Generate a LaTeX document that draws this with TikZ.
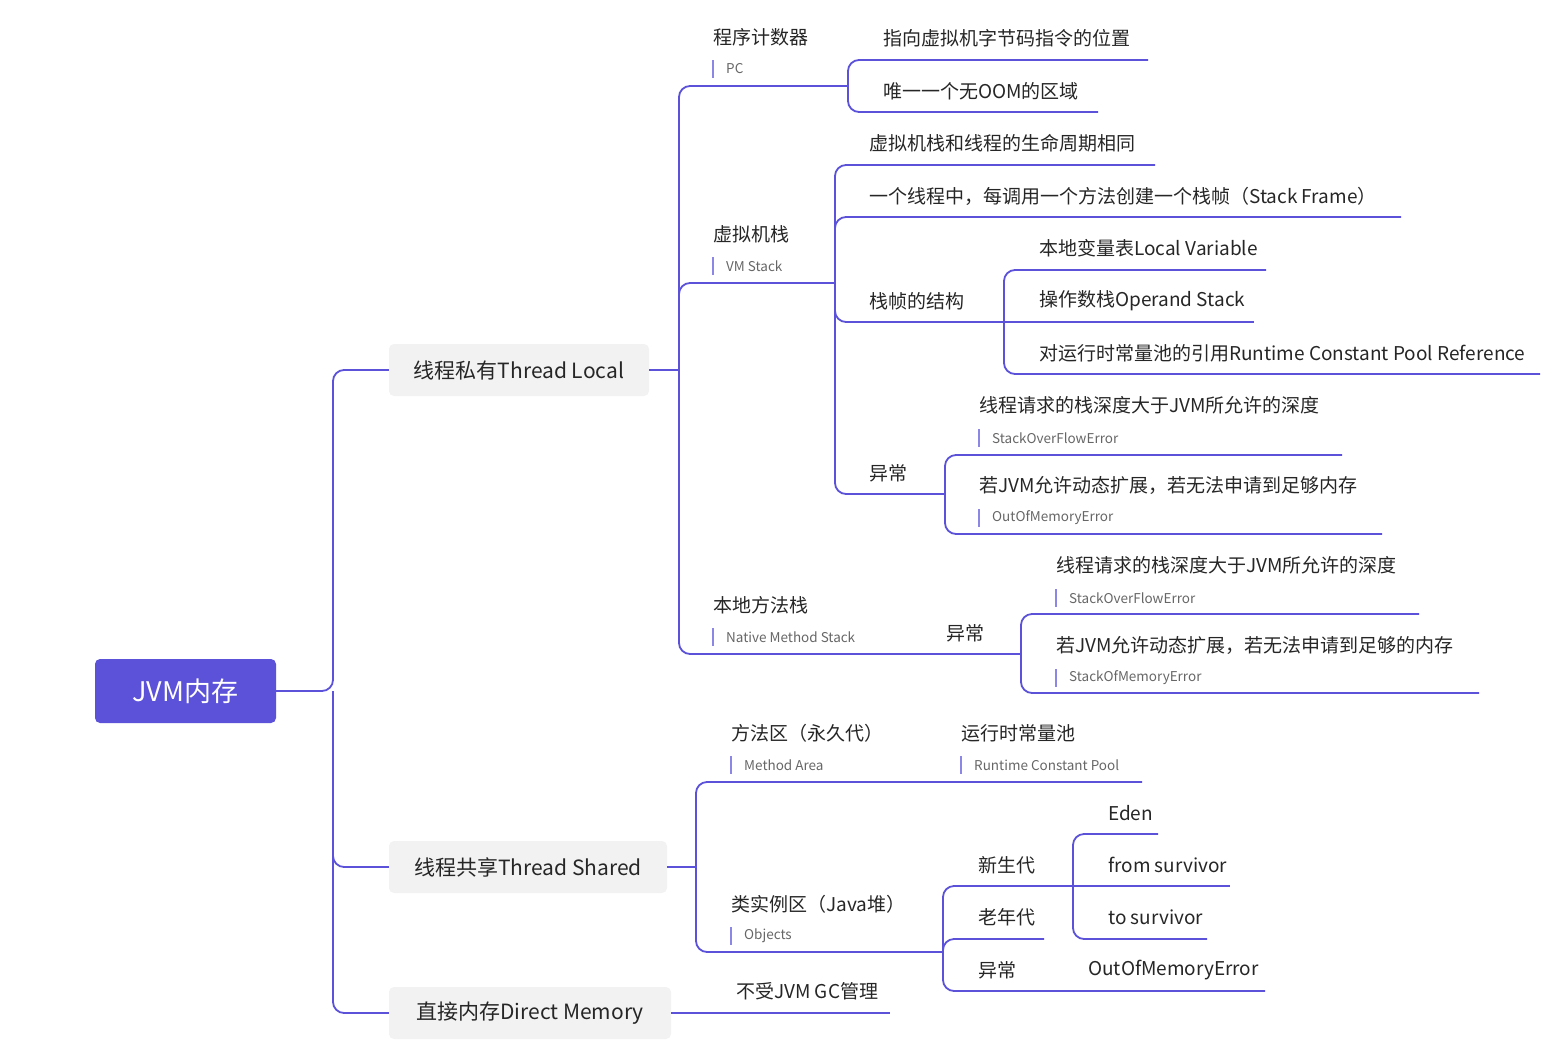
\documentclass[tikz,border=0pt]{standalone}
\usepackage{fontspec}
\setmainfont{Noto Sans CJK SC}
\definecolor{pur}{HTML}{5B52D9}
\definecolor{subg}{HTML}{666666}
\definecolor{boxg}{HTML}{F2F2F2}
\tikzset{
  conn/.style={draw=pur,line width=1.8pt,rounded corners=11pt},
  txt/.style={anchor=west,inner sep=0pt,font=\fontsize{19}{22}\selectfont,text=black!85},
  sub/.style={anchor=west,inner sep=0pt,font=\fontsize{13.5}{16}\selectfont,text=subg},
  bar/.style={draw=pur!70,line width=1.5pt},
  l1/.style={fill=boxg,rounded corners=5pt,inner sep=0pt,font=\fontsize{21}{24}\selectfont,text=black!85}
}
\newcommand\subl[4]{\draw[bar] (#1,#2-9) -- (#1,#2+9); \node[sub] (#4) at (#1+13,#2) {#3};}
\begin{document}
\begin{tikzpicture}[x=1pt,y=-1pt]
\useasboundingbox (0,0) rectangle (1564,1045);
% root
\node[fill=pur,rounded corners=5pt,minimum width=181pt,minimum height=64pt,text=white,font=\fontsize{27}{30}\selectfont] (root) at (185.5,691) {JVM内存};
\node[l1,minimum width=260pt,minimum height=52pt] (tl) at (519,370) {线程私有Thread Local};
\node[l1,minimum width=278pt,minimum height=52pt] (ts) at (528,867) {线程共享Thread Shared};
\node[l1,minimum width=282pt,minimum height=52pt] (dm) at (530,1013) {直接内存Direct Memory};
\draw[conn] (root.east) -- (333,691) |- (tl.west);
\draw[conn] (333,691) |- (ts.west);
\draw[conn] (333,691) |- (dm.west);

% Thread Local
\coordinate (a) at (679,370);
\draw[conn] (tl.east) -- (a);
\node[txt] (pc) at (713,37) {程序计数器}; \subl{713}{69}{PC}{pcs}
\node[txt] (vs) at (713,234) {虚拟机栈}; \subl{713}{266}{VM Stack}{vss}
\node[txt] (nm) at (713,605) {本地方法栈}; \subl{713}{637}{Native Method Stack}{nms}
\draw[conn] (a) |- (848,86);
\draw[conn] (a) |- (835,283);
\draw[conn] (a) |- (1021,654);
% PC children
\node[txt] (p1) at (883,38) {指向虚拟机字节码指令的位置};
\node[txt] (p2) at (883,91) {唯一一个无OOM的区域};
\draw[conn] (848,86) |- (1148,60);
\draw[conn] (848,86) |- (1098,112);
% VM stack children
\node[txt] (v1) at (869,143) {虚拟机栈和线程的生命周期相同};
\node[txt] (v2) at (869,196) {一个线程中，每调用一个方法创建一个栈帧（Stack Frame）};
\node[txt] (v3) at (869,301) {栈帧的结构};
\node[txt] (v4) at (869,473) {异常};
\draw[conn] (835,283) |- (1155,165);
\draw[conn] (835,283) |- (1401,217);
\draw[conn] (835,283) |- (1004,322);
\draw[conn] (835,283) |- (945,494);
\node[txt] (f1) at (1039,248) {本地变量表Local Variable};
\node[txt] (f2) at (1039,301) {操作数栈Operand Stack};
\node[txt] (f3) at (1039,353) {对运行时常量池的引用Runtime Constant Pool Reference};
\draw[conn] (1004,322) |- (1266,270);
\draw[conn] (1004,322) -- (1254,322);
\draw[conn] (1004,322) |- (1540,374);
\node[txt] (e1) at (979,405) {线程请求的栈深度大于JVM所允许的深度}; \subl{979}{438}{StackOverFlowError}{e1s}
\node[txt] (e2) at (979,485) {若JVM允许动态扩展，若无法申请到足够内存}; \subl{979}{518}{OutOfMemoryError}{e2s}
\draw[conn] (945,494) |- (1342,455);
\draw[conn] (945,494) |- (1382,534);
% native method stack
\node[txt] (ne) at (946,633) {异常};
\node[txt] (n1) at (1056,565) {线程请求的栈深度大于JVM所允许的深度}; \subl{1056}{598}{StackOverFlowError}{n1s}
\node[txt] (n2) at (1056,645) {若JVM允许动态扩展，若无法申请到足够的内存}; \subl{1056}{678}{StackOfMemoryError}{n2s}
\draw[conn] (1021,654) |- (1419,614);
\draw[conn] (1021,654) |- (1479,693);

% Thread Shared
\coordinate (b) at (696,867);
\draw[conn] (ts.east) -- (b);
\node[txt] (ma) at (731,733) {方法区（永久代）}; \subl{731}{765}{Method Area}{mas}
\node[txt] (rc) at (961,733) {运行时常量池}; \subl{961}{765}{Runtime Constant Pool}{rcs}
\node[txt] (ob) at (731,904) {类实例区（Java堆）}; \subl{731}{936}{Objects}{obs}
\draw[conn] (b) |- (1142,782);
\draw[conn] (b) |- (943,952);
\node[txt] (y1) at (978,865) {新生代};
\node[txt] (y2) at (978,917) {老年代};
\node[txt] (y3) at (978,970) {异常};
\node[txt] (y4) at (1088,970) {OutOfMemoryError};
\draw[conn] (943,952) |- (1073,886);
\draw[conn] (943,952) |- (1044,939);
\draw[conn] (943,952) |- (1265,991);
\node[txt] (g1) at (1108,813) {Eden};
\node[txt] (g2) at (1108,865) {from survivor};
\node[txt] (g3) at (1108,917) {to survivor};
\draw[conn] (1073,886) |- (1158,834);
\draw[conn] (1073,886) -- (1230,886);
\draw[conn] (1073,886) |- (1207,939);

% Direct memory
\node[txt] (d1) at (736,991) {不受JVM GC管理};
\draw[conn] (dm.east) -- (890,1013);
\end{tikzpicture}
\end{document}
